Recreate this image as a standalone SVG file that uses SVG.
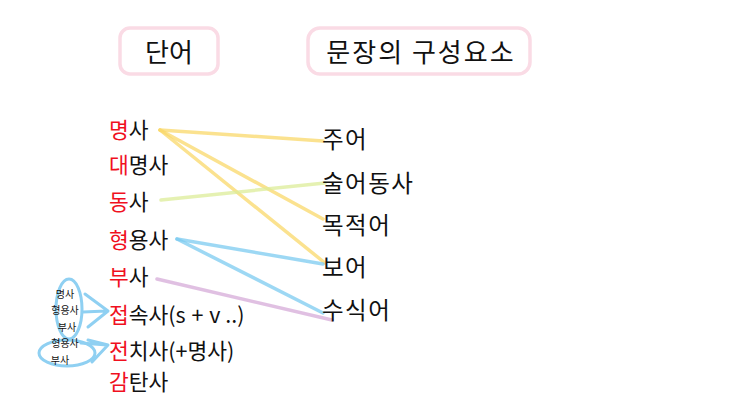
<svg xmlns="http://www.w3.org/2000/svg" width="740" height="401" viewBox="0 0 740 401">
<style>
.t{font-family:"Noto Sans CJK KR","Liberation Sans",sans-serif;fill:#111}
.w{font-size:21.5px}
.r{font-size:23.5px;letter-spacing:1.5px}
.h{font-size:26px}
.s{font-size:10px}
.red{fill:#f0101e}
.box{fill:#fff;stroke:#fadbe5;stroke-width:3.5}
.ln{fill:none;stroke-width:3.5;stroke-linecap:round;stroke-opacity:0.75}
.y{stroke:#f9d86a}
.g{stroke:#dcec98}
.b{stroke:#7ccbf0}
.p{stroke:#d6abd8}
.bl{fill:none;stroke:#8fd0f2;stroke-width:3;stroke-linecap:round;stroke-linejoin:round}
</style>
<rect width="740" height="401" fill="#fff"/>
<g id="title-word"><rect class="box" x="120" y="28" width="98" height="46" rx="10"/><text class="t h" x="169" y="62" text-anchor="middle">단어</text></g>
<g id="title-sentence"><rect class="box" x="308" y="28" width="222" height="46" rx="12"/><text class="t h" x="421" y="62" text-anchor="middle" letter-spacing="2">문장의 구성요소</text></g>
<g id="connectors">
<line class="ln y" x1="160" y1="130" x2="323" y2="141"/>
<line class="ln y" x1="160" y1="130" x2="323" y2="219"/>
<line class="ln y" x1="160" y1="130" x2="325" y2="263"/>
<line class="ln g" x1="161" y1="200" x2="325" y2="183"/>
<line class="ln b" x1="177" y1="239" x2="323" y2="264"/>
<line class="ln b" x1="177" y1="239" x2="323" y2="313"/>
<line class="ln p" x1="157" y1="279" x2="332" y2="320"/>
</g>
<g id="n-noun"><text class="t w" x="109" y="138"><tspan class="red">명</tspan>사</text></g>
<g id="n-pronoun"><text class="t w" x="109" y="173"><tspan class="red">대</tspan>명사</text></g>
<g id="n-verb"><text class="t w" x="109" y="210"><tspan class="red">동</tspan>사</text></g>
<g id="n-adj"><text class="t w" x="109" y="248"><tspan class="red">형</tspan>용사</text></g>
<g id="n-adv"><text class="t w" x="109" y="285"><tspan class="red">부</tspan>사</text></g>
<g id="n-conj"><text class="t w" x="109" y="323"><tspan class="red">접</tspan>속사(s <tspan dx="1">+</tspan> <tspan dx="1">v</tspan> ..)</text></g>
<g id="n-prep"><text class="t w" x="109" y="359"><tspan class="red">전</tspan>치사(+명사)</text></g>
<g id="n-interj"><text class="t w" x="109" y="390"><tspan class="red">감</tspan>탄사</text></g>
<g id="r-subject"><text class="t r" x="322" y="148">주어</text></g>
<g id="r-predicate"><text class="t r" x="322" y="192">술어동사</text></g>
<g id="r-object"><text class="t r" x="322" y="234">목적어</text></g>
<g id="r-complement"><text class="t r" x="322" y="276">보어</text></g>
<g id="r-modifier"><text class="t r" x="322" y="319">수식어</text></g>
<g id="conj-group">
<ellipse class="bl" cx="69" cy="309" rx="13" ry="30"/>
<text class="t s" x="65" y="298" text-anchor="middle">명사</text>
<text class="t s" x="65" y="314" text-anchor="middle">형용사</text>
<text class="t s" x="67" y="331" text-anchor="middle">부사</text>
<path class="bl" d="M85 294 L108 311 L88 327 M83 312 L106 311"/>
</g>
<g id="prep-group">
<ellipse class="bl" cx="67" cy="353" rx="28" ry="13"/>
<text class="t s" x="65" y="347" text-anchor="middle">형용사</text>
<text class="t s" x="60" y="364" text-anchor="middle">부사</text>
<path class="bl" d="M88 340 L108 345 L92 362 M81 343 L107 345"/>
</g>
</svg>
